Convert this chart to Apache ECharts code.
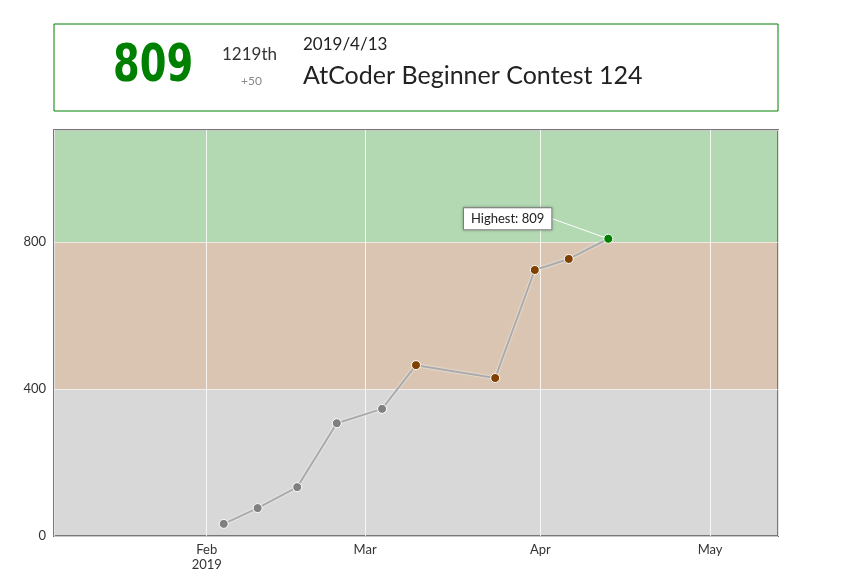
<!DOCTYPE html>
<html><head><meta charset="utf-8">
<script src="https://cdn.jsdelivr.net/npm/echarts@6/dist/echarts.min.js"></script>
<style>html,body{margin:0;padding:0;background:#fff}#c{width:855px;height:584px}</style>
</head><body><div id="c"></div>
<script>
const dates = ['2019-02-04','2019-02-10','2019-02-17','2019-02-24','2019-03-04','2019-03-10','2019-03-24','2019-03-31','2019-04-06','2019-04-13'];
const ratings = [33, 76, 133, 307, 346, 465, 430, 724, 754, 809];
const yTicks = [0, 400, 800];
const bands = [[0,400,'#d8d8d8'],[400,800,'#d9c5b2'],[800,1105,'#b3d9b3']];
const monthNames = ['Jan','Feb','Mar','Apr','May','Jun','Jul','Aug','Sep','Oct','Nov','Dec'];
const last = ratings.length - 1;
function color(r){ return r>=800?'#008000':(r>=400?'#804000':'#808080'); }
const chart = echarts.init(document.getElementById('c'));
chart.setOption({
  animation:false,
  textStyle:{fontFamily:'Lato'},
  grid:{left:54,right:77,top:130,bottom:48,show:true,borderColor:'#777',borderWidth:2},
  xAxis:{type:'time',min:+new Date('2019-01-05'),max:+new Date('2019-05-13'),splitNumber:4,
    axisLine:{show:false},axisTick:{show:false},
    splitLine:{show:true,lineStyle:{color:'rgba(255,255,255,0.8)',width:1}},
    axisLabel:{color:'#333',fontSize:13,margin:6,lineHeight:15,formatter:v=>{const d=new Date(v);const m=monthNames[d.getMonth()];return m==='Feb'?m+'\n'+d.getFullYear():m;}}},
  yAxis:{type:'value',min:0,max:1105,interval:400,
    axisLine:{show:false},axisTick:{show:false},
    splitLine:{show:true,lineStyle:{color:'rgba(255,255,255,0.6)'}},
    axisLabel:{color:'#333',fontSize:13,showMaxLabel:false,formatter:v=>yTicks.includes(v)?String(v):''}},
  graphic:[
    {type:'rect',shape:{x:54,y:24,width:724,height:87},style:{fill:'#fff',stroke:'#008000',lineWidth:1}},
    {type:'text',x:113,y:41,scaleX:0.82,style:{text:'809',fill:'#008000',font:'bold 52px "DejaVu Sans Condensed", "Liberation Sans"'}},
    {type:'text',left:222,top:46,style:{text:'1219th',fill:'#333',font:'17px Lato'}},
    {type:'text',left:241,top:75,style:{text:'+50',fill:'#888',font:'12px Lato'}},
    {type:'text',left:303,top:36,style:{text:'2019/4/13',fill:'#222',font:'17px Lato'}},
    {type:'text',left:303,top:63,style:{text:'AtCoder Beginner Contest 124',fill:'#222',font:'25px Lato'}}
  ],
  series:[{
    type:'line',
    data:dates.map((d,i)=>({value:[d,ratings[i]],itemStyle:{color:color(ratings[i])},
      label:i===last?{show:true,formatter:'Highest: '+ratings[i],position:'left',distance:0,color:'#222',fontSize:13,backgroundColor:'#fff',borderColor:'#888',borderWidth:1,padding:[4,7],shadowColor:'rgba(0,0,0,0.3)',shadowBlur:3}:{show:false}})),
    labelLayout:p=>p.dataIndex===last?{dx:-52,dy:-20}:{},
    labelLine:{show:true,lineStyle:{color:'#fff',width:1}},
    symbol:'circle',symbolSize:9,
    itemStyle:{borderColor:'#fff',borderWidth:1},
    lineStyle:{color:'#aaa',width:2,shadowColor:'rgba(255,255,255,1)',shadowBlur:2},
    markArea:{silent:true,z:-1,itemStyle:{},data:bands.map(b=>[{yAxis:b[0],itemStyle:{color:b[2]}},{yAxis:b[1]}])}
  }]
});
</script></body></html>
